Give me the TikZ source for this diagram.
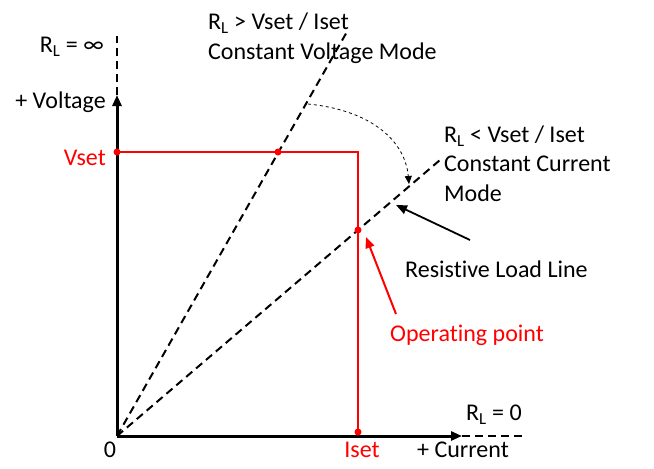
\documentclass[tikz,border=0pt]{standalone}
\usepackage{fontspec}
\setmainfont[Ligatures=NoCommon]{Carlito}
\usetikzlibrary{arrows.meta}
\begin{document}
\begin{tikzpicture}[x=1pt,y=-1pt,
  lbl/.style={font=\fontsize{24}{28}\selectfont,inner sep=0pt},
  dot/.style={circle,fill=red,inner sep=0pt,minimum size=7pt},
  ax/.style={line width=3pt},
  dl/.style={line width=2pt,dash pattern=on 8pt off 5pt}]
\useasboundingbox (0,0) rectangle (654,469);
\coordinate (O) at (117,436);
\coordinate (yt) at (117,95);
\coordinate (ye) at (117,36);
\coordinate (xt) at (462,436);
\coordinate (xe) at (526,436);
\coordinate (s1) at (348,30);
\coordinate (s2) at (440,160);
\draw[dl] (O) -- (s1);
\draw[dl] (O) -- (s2);
\draw[dl] (yt) -- (ye);
\draw[dl] (xt) -- (xe);
\draw[red,line width=2pt] (O) -- (358,436) -- (358,152) -- (117,152);
\draw[ax,-{Triangle[length=11pt,width=9pt]}] (O) -- (yt);
\draw[ax,-{Triangle[length=11pt,width=9pt]}] (O) -- (xt);
\node[dot] (d1) at (117,152) {};
\node[dot] (d2) at (278,152) {};
\node[dot] (d3) at (358,230) {};
\node[dot] (d4) at (358,432) {};
\coordinate (c1) at (308,104);
\coordinate (c2) at (409,184);
\draw[dashed,line width=0.8pt,-{Triangle[length=8pt,width=7pt]}] (c1) .. controls (370,110) and (405,140) .. (c2);
\node[lbl,anchor=east] (rinf) at (104,47) {R\textsubscript{L} = ∞};
\node[lbl,anchor=east] (volt) at (106,102) {+ Voltage};
\node[lbl,anchor=west] (cv1) at (208,23) {R\textsubscript{L} > Vset / Iset};
\node[lbl,anchor=west] (cv2) at (208,53) {Constant Voltage Mode};
\node[lbl,anchor=west] (cc1) at (444,136) {R\textsubscript{L} < Vset / Iset};
\node[lbl,anchor=west] (cc2) at (444,164) {Constant Current};
\node[lbl,anchor=west] (cc3) at (444,193) {Mode};
\node[lbl,anchor=west] (rll) at (405,269) {Resistive Load Line};
\node[lbl,anchor=west,red] (op) at (390,335) {Operating point};
\node[lbl,anchor=west] (r0) at (466,415) {R\textsubscript{L} = 0};
\node[lbl,red] (iset) at (362,450) {Iset};
\node[lbl] (cur) at (463,450) {+ Current};
\node[lbl] (zero) at (110,450) {0};
\node[lbl,red,anchor=east] (vset) at (106,158) {Vset};
\draw[line width=1.8pt,-{Triangle[length=11pt,width=9pt]}] (470,240) -- (396,205);
\draw[red,line width=2pt,-{Triangle[length=11pt,width=9pt]}] (396,314) -- (366,237);
\end{tikzpicture}
\end{document}
